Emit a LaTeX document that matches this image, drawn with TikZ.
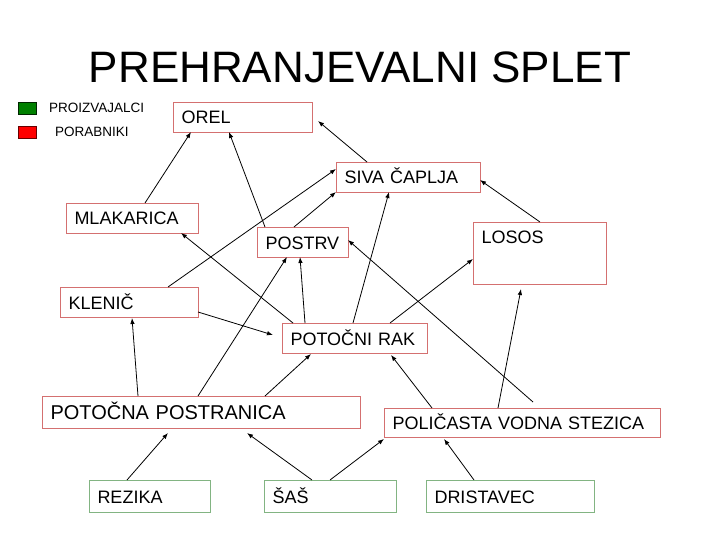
\documentclass[tikz,border=0pt]{standalone}
\usepackage{fontspec}
\setmainfont{Liberation Sans}
\usetikzlibrary{arrows.meta}
\definecolor{rdrob}{RGB}{212,112,112}
\definecolor{zdrob}{RGB}{130,180,130}
\definecolor{zlegenda}{RGB}{0,128,0}
\begin{document}
\begin{tikzpicture}[x=1bp,y=-1bp,
  potrosnik/.style={draw=rdrob,line width=1bp,anchor=north west,align=left,
    inner xsep=8bp,inner ysep=8.5bp,text height=13bp,text depth=0pt,
    font=\fontsize{18bp}{20bp}\selectfont},
  proizvajalec/.style={potrosnik,draw=zdrob,inner ysep=9.5bp},
  strel/.style={-{Latex[length=6bp,width=4.5bp]},line width=0.8bp}]
\useasboundingbox (0,0) rectangle (720,540);
\node[anchor=base,font=\fontsize{44bp}{48bp}\selectfont] (naslov) at (360,83) {PREHRANJEVALNI SPLET};
% legenda
\draw[fill=zlegenda,draw=black!70!zlegenda] (18,102) rectangle (36,114);
\draw[fill=red,draw=black!60!red] (18,126) rectangle (36,138);
\node[anchor=west,inner sep=0pt,font=\fontsize{13.5bp}{15bp}\selectfont] (proiz) at (49,108) {PROIZVAJALCI};
\node[anchor=west,inner sep=0pt,font=\fontsize{13.5bp}{15bp}\selectfont] (porab) at (55,132) {PORABNIKI};
% porabniki
\node[potrosnik,text width=123bp] (orel) at (173,102) {OREL};
\node[potrosnik,text width=128bp] (siva) at (336,162) {SIVA ČAPLJA};
\node[potrosnik,text width=116bp] (mlak) at (66,203) {MLAKARICA};
\node[potrosnik,text width=75bp] (postrv) at (257,227) {POSTRV};
\node[potrosnik,text width=117bp,inner ysep=8bp,text depth=33bp] (losos) at (473,222) {LOSOS};
\node[potrosnik,text width=122bp] (klenic) at (60,287) {KLENIČ};
\node[potrosnik,text width=129bp] (rak) at (282,323) {POTOČNI RAK};
\node[potrosnik,text width=302bp,text height=14bp,inner ysep=9bp,
  font=\fontsize{20bp}{22bp}\selectfont] (postranica) at (42,396) {POTOČNA POSTRANICA};
\node[potrosnik,text width=260bp,inner ysep=8bp] (policasta) at (384,408) {POLIČASTA VODNA STEZICA};
% proizvajalci
\node[proizvajalec,text width=105bp] (rezika) at (89,480) {REZIKA};
\node[proizvajalec,text width=116bp] (sas) at (264,480) {ŠAŠ};
\node[proizvajalec,text width=152bp] (dristavec) at (426,480) {DRISTAVEC};
% puscice
\draw[strel] ([shift={(79,0)}]mlak.north west) -- ([shift={(18,30)}]orel.north west);
\draw[strel] ([shift={(8,0)}]postrv.north west) -- ([shift={(56,30)}]orel.north west);
\draw[strel] ([shift={(31,0)}]siva.north west) -- ([shift={(145,19)}]orel.north west);
\draw[strel] ([shift={(108,0)}]klenic.north west) -- ([shift={(0,7)}]siva.north west);
\draw[strel] ([shift={(37,0)}]postrv.north west) -- ([shift={(0,30)}]siva.north west);
\draw[strel] ([shift={(71,0)}]rak.north west) -- ([shift={(53,30)}]siva.north west);
\draw[strel] ([shift={(67,0)}]losos.north west) -- ([shift={(144,18)}]siva.north west);
\draw[strel] ([shift={(11,0)}]rak.north west) -- ([shift={(115,30)}]mlak.north west);
\draw[strel] ([shift={(23,0)}]rak.north west) -- ([shift={(43,30)}]postrv.north west);
\draw[strel] ([shift={(156,0)}]postranica.north west) -- ([shift={(30,30)}]postrv.north west);
\draw[strel] ([shift={(138,25)}]klenic.north west) -- ([shift={(-9,12)}]rak.north west);
\draw[strel] ([shift={(108,0)}]rak.north west) -- ([shift={(0,37)}]losos.north west);
\draw[strel] ([shift={(149,-6)}]policasta.north west) -- ([shift={(91,13)}]postrv.north west);
\draw[strel] ([shift={(114,0)}]policasta.north west) -- ([shift={(48,67)}]losos.north west);
\draw[strel] ([shift={(48,0)}]policasta.north west) -- ([shift={(109,32)}]rak.north west);
\draw[strel] ([shift={(96,0)}]postranica.north west) -- ([shift={(72,31)}]klenic.north west);
\draw[strel] ([shift={(223,0)}]postranica.north west) -- ([shift={(29,31)}]rak.north west);
\draw[strel] ([shift={(38,0)}]rezika.north west) -- ([shift={(126,37)}]postranica.north west);
\draw[strel] ([shift={(48,0)}]sas.north west) -- ([shift={(205,37)}]postranica.north west);
\draw[strel] ([shift={(66,0)}]sas.north west) -- ([shift={(0,31)}]policasta.north west);
\draw[strel] ([shift={(48,0)}]dristavec.north west) -- ([shift={(60,31)}]policasta.north west);
\end{tikzpicture}
\end{document}
